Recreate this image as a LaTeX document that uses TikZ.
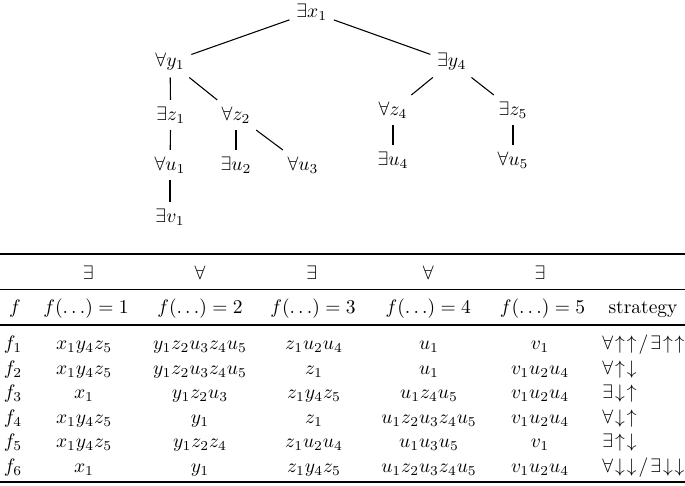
\documentclass[tikz,border=0pt]{standalone}
\begin{document}
\begin{tikzpicture}[x=0.513pt,y=-0.513pt,
  tnode/.style={inner sep=3.3pt},
  edge/.style={line width=0.55pt},
  cell/.style={inner sep=0pt,text height=7pt,text depth=2pt},
  strat/.style={cell,anchor=west},
  thickrule/.style={line width=0.9pt},
  thinrule/.style={line width=0.55pt}]
\newcommand{\sg}{\mkern1.8mu}
\newcommand{\up}{{\uparrow}}
\newcommand{\dn}{{\downarrow}}
\newcommand{\slsh}{{/}}
\useasboundingbox (0,0) rectangle (685,485);
% tree
\node[tnode] (x1) at (311.7,12) {$\exists x_1$};
\node[tnode] (y1) at (170,62) {$\forall y_1$};
\node[tnode] (y4) at (451.7,62) {$\exists y_4$};
\node[tnode] (z1) at (170.7,115) {$\exists z_1$};
\node[tnode] (z2) at (236,115) {$\forall z_2$};
\node[tnode] (z4) at (393,110) {$\forall z_4$};
\node[tnode] (z5) at (513,110) {$\exists z_5$};
\node[tnode] (u1) at (170,165) {$\forall u_1$};
\node[tnode] (u2) at (236,165) {$\exists u_2$};
\node[tnode] (u3) at (303,165) {$\forall u_3$};
\node[tnode] (u4) at (393,160) {$\exists u_4$};
\node[tnode] (u5) at (513,160) {$\forall u_5$};
\node[tnode] (v1) at (170,217) {$\exists v_1$};
\draw[edge] (x1) -- (y1);
\draw[edge] (x1) -- (y4);
\draw[edge] (y1) -- (z1);
\draw[edge] (y1) -- (z2);
\draw[edge] (y4) -- (z4);
\draw[edge] (y4) -- (z5);
\draw[edge] (z1) -- (u1);
\draw[edge] (z2) -- (u2);
\draw[edge] (z2) -- (u3);
\draw[edge] (z4) -- (u4);
\draw[edge] (z5) -- (u5);
\draw[edge] (u1) -- (v1);
% table rules
\draw[thickrule] (0,254) -- (685,254);
\draw[thinrule] (0,289.5) -- (685,289.5);
\draw[thinrule] (0,325) -- (685,325);
\draw[thickrule] (0,482) -- (685,482);
% quantifier row
\node[cell] (q1) at (88.3,274.3) {$\exists$};
\node[cell] (q2) at (200,274.3) {$\forall$};
\node[cell] (q3) at (311.7,274.3) {$\exists$};
\node[cell] (q4) at (428.3,274.3) {$\forall$};
\node[cell] (q5) at (540,274.3) {$\exists$};
% header row
\node[cell] (h0) at (15,308.3) {$f$};
\node[cell] (h1) at (86,308.3) {$f(\ldots)=1$};
\node[cell] (h2) at (200,308.3) {$f(\ldots)=2$};
\node[cell] (h3) at (313,308.3) {$f(\ldots)=3$};
\node[cell] (h4) at (428.3,308.3) {$f(\ldots)=4$};
\node[cell] (h5) at (542.5,308.3) {$f(\ldots)=5$};
\node[cell] (h6) at (643,308.3) {strategy};
% data rows
\foreach \r/\y/\a/\b/\c/\d/\e/\s in {
  1/345/x_1y_4z_5/y_1z_2u_3z_4u_5/z_1u_2u_4/u_1/v_1/{\forall\sg\up\sg\up\sg\slsh\sg\exists\sg\up\sg\up},
  2/369.5/x_1y_4z_5/y_1z_2u_3z_4u_5/z_1/u_1/v_1u_2u_4/{\forall\sg\up\sg\dn},
  3/394/x_1/y_1z_2u_3/z_1y_4z_5/u_1z_4u_5/v_1u_2u_4/{\exists\sg\dn\sg\up},
  4/418.5/x_1y_4z_5/y_1/z_1/u_1z_2u_3z_4u_5/v_1u_2u_4/{\forall\sg\dn\sg\up},
  5/443/x_1y_4z_5/y_1z_2z_4/z_1u_2u_4/u_1u_3u_5/v_1/{\exists\sg\up\sg\dn},
  6/467.5/x_1/y_1/z_1y_4z_5/u_1z_2u_3z_4u_5/v_1u_2u_4/{\forall\sg\dn\sg\dn\sg\slsh\sg\exists\sg\dn\sg\dn}}{
  \node[cell] (f\r) at (13,\y) {$f_\r$};
  \node[cell] (a\r) at (84,\y) {$\a$};
  \node[cell] (b\r) at (200,\y) {$\b$};
  \node[cell] (c\r) at (314,\y) {$\c$};
  \node[cell] (d\r) at (429,\y) {$\d$};
  \node[cell] (e\r) at (540,\y) {$\e$};
  \node[strat] (s\r) at (602,\y) {$\s$};
}
\end{tikzpicture}
\end{document}
